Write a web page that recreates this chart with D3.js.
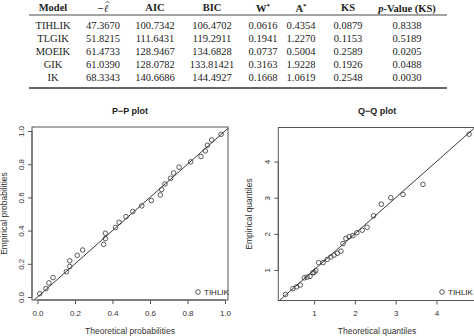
<!DOCTYPE html>
<html><head><meta charset="utf-8">
<script src="https://cdn.jsdelivr.net/npm/d3@7"></script>
<style>
html,body{margin:0;padding:0;background:#fff;}
svg{display:block;}
</style></head>
<body>
<svg id="chart" width="474" height="336"></svg>
<script>
// ---- Table data ----
const models = ["TIHLIK", "TLGIK", "MOEIK", "GIK", "IK"];
const negLogLik = ["47.3670", "51.8215", "61.4733", "61.0390", "68.3343"];
const aicVals = ["100.7342", "111.6431", "128.9467", "128.0782", "140.6686"];
const bicVals = ["106.4702", "119.2911", "134.6828", "133.81421", "144.4927"];
const wStar = ["0.0616", "0.1941", "0.0737", "0.3163", "0.1668"];
const aStar = ["0.4354", "1.2270", "0.5004", "1.9228", "1.0619"];
const ksVals = ["0.0879", "0.1153", "0.2589", "0.1926", "0.2548"];
const pVals = ["0.8338", "0.5189", "0.0205", "0.0488", "0.0030"];

// ---- P-P plot data ----
const ppTheo = [0.012,0.045,0.061,0.083,0.154,0.172,0.172,0.212,0.241,0.353,0.362,0.362,0.416,0.435,0.472,0.508,0.556,0.607,0.655,0.662,0.680,0.710,0.726,0.755,0.817,0.872,0.895,0.906,0.929,0.979];
const ppEmp  = [0.020,0.051,0.085,0.117,0.152,0.184,0.218,0.251,0.283,0.317,0.352,0.384,0.419,0.450,0.484,0.515,0.549,0.581,0.615,0.647,0.681,0.715,0.747,0.782,0.814,0.846,0.880,0.914,0.946,0.980];
const ppTicks = [0, 0.2, 0.4, 0.6, 0.8, 1.0];

// ---- Q-Q plot data ----
const qqTheo = [0.30,0.48,0.57,0.66,0.76,0.83,0.90,0.97,1.00,1.04,1.11,1.22,1.32,1.41,1.49,1.57,1.66,1.71,1.78,1.86,1.95,2.05,2.18,2.30,2.46,2.65,2.88,3.18,3.67,4.80];
const qqEmp  = [0.32,0.48,0.53,0.58,0.78,0.80,0.82,0.92,0.93,0.98,1.20,1.20,1.29,1.36,1.41,1.46,1.52,1.73,1.87,1.92,1.95,2.03,2.10,2.18,2.50,2.82,3.00,3.09,3.37,4.76];
const qqTicks = [1, 2, 3, 4];

const svg = d3.select("#chart");
const serif = "'Liberation Serif', 'DejaVu Serif', serif";
const sans = "'Liberation Sans', Arial, sans-serif";

// ---- Table ----
const colX = [53, 103, 155, 212, 263, 301, 348, 407];
const headerY = 7.5, rowY0 = 25, rowStep = 13.2;
const tg = svg.append("g").attr("font-family", serif).attr("fill", "#222");

const hdr = tg.append("g").attr("font-weight", "bold").attr("font-size", "10.5px");
function hText(i) {
  return hdr.append("text").attr("x", colX[i]).attr("y", headerY)
    .attr("text-anchor", "middle").attr("dominant-baseline", "central");
}
hText(0).text("Model");
{
  const t = hText(1);
  t.append("tspan").text("\u2212");
  t.append("tspan").attr("font-style","italic").attr("font-weight","normal").text("\u2113");
  // hat over the ell
  const hx = colX[1] + 4.5;
  tg.append("path").attr("d", `M${hx - 2},3.2L${hx},1.2L${hx + 2},3.2`)
    .attr("fill", "none").attr("stroke", "#222").attr("stroke-width", 0.7);
}
hText(2).text("AIC");
hText(3).text("BIC");
{ const t = hText(4); t.append("tspan").text("W"); t.append("tspan").attr("font-size","7px").attr("dy","-2").text("*"); }
{ const t = hText(5); t.append("tspan").text("A"); t.append("tspan").attr("font-size","7px").attr("dy","-2").text("*"); }
hText(6).text("KS");
{ const t = hText(7); t.append("tspan").attr("font-style","italic").text("p"); t.append("tspan").text("-Value (KS)"); }

tg.append("line").attr("x1", 29).attr("x2", 447).attr("y1", 15).attr("y2", 15)
  .attr("stroke", "#333").attr("stroke-width", 0.9);
tg.append("line").attr("x1", 29).attr("x2", 447).attr("y1", 88).attr("y2", 88)
  .attr("stroke", "#333").attr("stroke-width", 1.4);

const cols = [models, negLogLik, aicVals, bicVals, wStar, aStar, ksVals, pVals];
models.forEach((m, r) => {
  cols.forEach((col, c) => {
    tg.append("text").attr("x", colX[c]).attr("y", rowY0 + r * rowStep)
      .attr("text-anchor", "middle").attr("dominant-baseline", "central")
      .attr("font-size", "10.5px").text(col[r]);
  });
});

// ---- Generic R-style plot ----
function rPlot(opt) {
  const g = svg.append("g").attr("font-family", sans);
  const x = d3.scaleLinear().domain(opt.xDom).range([opt.left, opt.right]);
  const y = d3.scaleLinear().domain(opt.yDom).range([opt.bottom, opt.top]);
  const clipId = "clip" + opt.id;
  svg.append("clipPath").attr("id", clipId).append("rect")
    .attr("x", opt.left).attr("y", opt.top)
    .attr("width", opt.right - opt.left).attr("height", opt.bottom - opt.top);

  // box
  g.append("rect").attr("x", opt.left).attr("y", opt.top)
    .attr("width", opt.right - opt.left).attr("height", opt.bottom - opt.top)
    .attr("fill", "none").attr("stroke", "#555").attr("stroke-width", 1);

  // x axis
  const xa = d3.axisBottom(x).tickValues(opt.xTicks).tickSize(4).tickPadding(6)
    .tickFormat(opt.fmt);
  const gx = g.append("g").attr("transform", `translate(0,${opt.bottom})`).call(xa);
  gx.select(".domain").attr("d", `M${x(opt.xTicks[0])},0H${x(opt.xTicks[opt.xTicks.length-1])}`).attr("stroke", "#555");
  gx.selectAll(".tick line").attr("stroke", "#555");
  gx.selectAll("text").attr("font-size", "8px").attr("fill", "#333").attr("font-family", sans);

  // y axis
  const ya = d3.axisLeft(y).tickValues(opt.yTicks).tickSize(4).tickPadding(6)
    .tickFormat(opt.fmt);
  const gy = g.append("g").attr("transform", `translate(${opt.left},0)`).call(ya);
  gy.select(".domain").attr("d", `M0,${y(opt.yTicks[0])}V${y(opt.yTicks[opt.yTicks.length-1])}`).attr("stroke", "#555");
  gy.selectAll(".tick line").attr("stroke", "#555");
  gy.selectAll("text").attr("font-size", "8px").attr("fill", "#333").attr("font-family", sans)
    .attr("text-anchor", "middle").attr("dy", null).attr("dominant-baseline", "central")
    .attr("x", -opt.yLabOff)
    .attr("transform", function() { return `rotate(-90, ${-opt.yLabOff}, 0)`; });

  // reference line y = x
  const lo = Math.min(opt.xDom[0], opt.yDom[0]) - 1, hi = Math.max(opt.xDom[1], opt.yDom[1]) + 1;
  g.append("line").attr("clip-path", `url(#${clipId})`)
    .attr("x1", x(lo)).attr("y1", y(lo)).attr("x2", x(hi)).attr("y2", y(hi))
    .attr("stroke", "#222").attr("stroke-width", 0.9);

  // points
  g.append("g").attr("clip-path", `url(#${clipId})`).selectAll("circle")
    .data(opt.xs.map((v, i) => [v, opt.ys[i]])).join("circle")
    .attr("cx", d => x(d[0])).attr("cy", d => y(d[1])).attr("r", 2.3)
    .attr("fill", "none").attr("stroke", "#333").attr("stroke-width", 0.8);

  // titles
  g.append("text").attr("x", (opt.left + opt.right) / 2).attr("y", 111)
    .attr("text-anchor", "middle").attr("dominant-baseline", "central")
    .attr("font-weight", "bold").attr("font-size", "9px").attr("fill", "#222").text(opt.title);
  g.append("text").attr("x", opt.xLabX).attr("y", 331)
    .attr("text-anchor", "middle").attr("dominant-baseline", "central")
    .attr("font-size", "8.5px").attr("fill", "#333").text(opt.xLabel);
  g.append("text").attr("transform", `translate(${opt.yLabX},${(opt.top + opt.bottom) / 2}) rotate(-90)`)
    .attr("text-anchor", "middle").attr("dominant-baseline", "central")
    .attr("font-size", "8.5px").attr("fill", "#333").text(opt.yLabel);

  // legend
  g.append("circle").attr("cx", opt.legX).attr("cy", 292).attr("r", 2.3)
    .attr("fill", "none").attr("stroke", "#333").attr("stroke-width", 0.8);
  g.append("text").attr("x", opt.legX + 6).attr("y", 292)
    .attr("dominant-baseline", "central").attr("font-size", "8px").attr("fill", "#222").text("TIHLIK");
}

rPlot({
  id: "pp", title: "P\u2212P plot", xLabel: "Theoretical probabilities", yLabel: "Empirical probabilities",
  left: 32, right: 228, top: 127, bottom: 300,
  xDom: [-0.0293, 1.016], yDom: [-0.018, 1.024],
  xTicks: ppTicks, yTicks: ppTicks, fmt: d3.format(".1f"),
  xs: ppTheo, ys: ppEmp, yLabOff: 11, xLabX: 130, yLabX: 4, legX: 198
});

rPlot({
  id: "qq", title: "Q\u2212Q plot", xLabel: "Theoretical quantiles", yLabel: "Empirical quantiles",
  left: 278.3, right: 476, top: 127.5, bottom: 300.5,
  xDom: [0.123, 4.97], yDom: [0.152, 4.945],
  xTicks: qqTicks, yTicks: qqTicks, fmt: d3.format("d"),
  xs: qqTheo, ys: qqEmp, yLabOff: 11, xLabX: 377, yLabX: 249, legX: 442
});
</script>
</body></html>
